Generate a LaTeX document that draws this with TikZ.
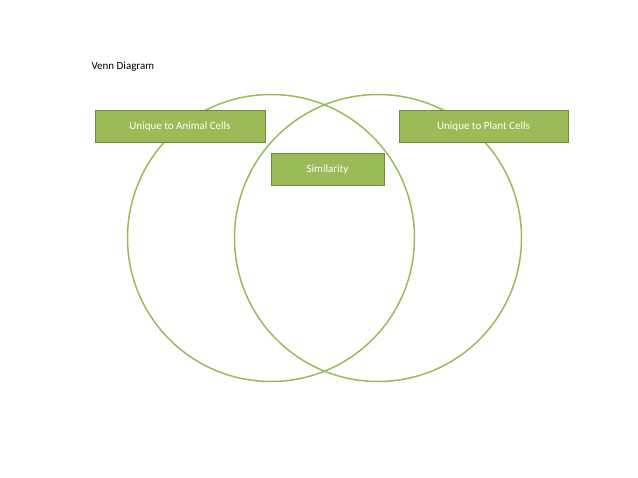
\documentclass[tikz,border=0pt]{standalone}
\usepackage{fontspec}
\setmainfont{Carlito}
\usetikzlibrary{positioning}
\definecolor{leaf}{HTML}{9BBB59}
\definecolor{leafdark}{HTML}{71893F}
\tikzstyle{ring} = [draw=leaf, line width=1.5pt]
\tikzstyle{tag} = [rectangle, draw=leafdark, line width=1pt, fill=leaf, text=white, minimum height=32pt, inner xsep=6pt, font=\fontsize{11}{13}\selectfont]

\begin{document}
\begin{tikzpicture}[x=1pt, y=-1pt]
\useasboundingbox (0,0) rectangle (638,478);

% Circles
\draw [ring] (271,238) circle (143.5);
\draw [ring] (378,238) circle (143.5);

% Labels
\node (title) [anchor=west, font=\fontsize{11}{13}\selectfont] at (88,67) {Venn Diagram};
\node (animal) [tag, minimum width=170pt] at (180,127) {Unique to Animal Cells};
\node (plant) [tag, minimum width=169pt] at (483.5,127) {Unique to Plant Cells};
\node (similar) [tag, minimum width=113pt] at (327.5,170) {Similarity};

\end{tikzpicture}
\end{document}
